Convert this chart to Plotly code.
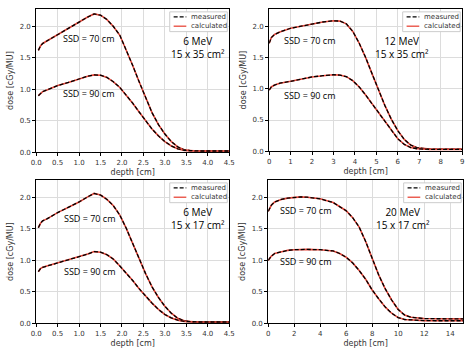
import plotly.graph_objects as go

# ---------- data ----------
depth_a = [0.05, 0.1, 0.15, 0.25, 0.5, 0.75, 1.0, 1.2, 1.35, 1.5, 1.65, 1.8, 1.95, 2.1, 2.25, 2.4, 2.55, 2.7, 2.85, 3.0, 3.15, 3.3, 3.45, 3.6, 3.8, 4.0, 4.5]
a_ssd70 = [1.62, 1.69, 1.73, 1.77, 1.88, 1.98, 2.07, 2.15, 2.20, 2.18, 2.11, 2.00, 1.86, 1.63, 1.38, 1.12, 0.86, 0.63, 0.44, 0.29, 0.17, 0.085, 0.04, 0.025, 0.02, 0.02, 0.02]
a_ssd90 = [0.90, 0.94, 0.965, 0.99, 1.06, 1.11, 1.165, 1.21, 1.23, 1.225, 1.19, 1.12, 1.03, 0.91, 0.78, 0.64, 0.50, 0.37, 0.26, 0.17, 0.10, 0.055, 0.03, 0.022, 0.02, 0.02, 0.02]

depth_b = [0, 0.1, 0.25, 0.5, 1, 1.5, 2, 2.5, 3, 3.3, 3.6, 3.9, 4.2, 4.5, 4.8, 5.1, 5.4, 5.7, 6.0, 6.3, 6.6, 6.9, 7.2, 7.5, 8, 9]
b_ssd70 = [1.73, 1.82, 1.87, 1.91, 1.97, 2.005, 2.04, 2.07, 2.09, 2.085, 2.04, 1.92, 1.73, 1.50, 1.24, 0.98, 0.73, 0.51, 0.33, 0.19, 0.10, 0.055, 0.04, 0.035, 0.033, 0.033]
b_ssd90 = [0.98, 1.03, 1.06, 1.09, 1.12, 1.155, 1.19, 1.21, 1.225, 1.22, 1.195, 1.13, 1.03, 0.90, 0.76, 0.61, 0.46, 0.32, 0.20, 0.11, 0.06, 0.04, 0.032, 0.03, 0.03, 0.03]

depth_c = [0.05, 0.1, 0.15, 0.25, 0.5, 0.75, 1.0, 1.2, 1.35, 1.5, 1.65, 1.8, 1.95, 2.1, 2.25, 2.4, 2.55, 2.7, 2.85, 3.0, 3.15, 3.3, 3.45, 3.6, 3.8, 4.0, 4.5]
c_ssd70 = [1.52, 1.59, 1.63, 1.66, 1.76, 1.84, 1.93, 2.01, 2.065, 2.04, 1.97, 1.87, 1.72, 1.51, 1.27, 1.03, 0.79, 0.58, 0.41, 0.27, 0.16, 0.08, 0.04, 0.025, 0.02, 0.02, 0.02]
c_ssd90 = [0.82, 0.87, 0.89, 0.91, 0.96, 1.00, 1.05, 1.10, 1.14, 1.13, 1.09, 1.02, 0.91, 0.80, 0.68, 0.55, 0.43, 0.32, 0.22, 0.14, 0.085, 0.05, 0.03, 0.022, 0.02, 0.02, 0.02]

depth_d = [0, 0.25, 0.5, 1, 1.5, 2, 2.5, 3, 4, 5, 5.5, 6, 6.5, 7, 7.5, 8, 8.5, 9, 9.5, 10, 10.5, 11, 11.5, 12, 13, 14, 15]
d_ssd70 = [1.78, 1.88, 1.93, 1.97, 1.99, 2.0, 2.01, 2.005, 1.98, 1.92, 1.86, 1.79, 1.68, 1.53, 1.30, 1.02, 0.77, 0.55, 0.37, 0.22, 0.13, 0.095, 0.08, 0.075, 0.072, 0.07, 0.07]
d_ssd90 = [1.0, 1.07, 1.11, 1.14, 1.16, 1.17, 1.175, 1.175, 1.17, 1.15, 1.11, 1.05, 0.96, 0.84, 0.70, 0.53, 0.39, 0.26, 0.16, 0.09, 0.06, 0.05, 0.045, 0.042, 0.04, 0.04, 0.04]

energies = ["6 MeV", "12 MeV", "6 MeV", "20 MeV"]
fields = ["15 x 35 cm²", "15 x 35 cm²", "15 x 17 cm²", "15 x 17 cm²"]
ssd_labels = ["SSD = 70 cm", "SSD = 90 cm"]
legend_names = ["measured", "calculated"]
x_title = "depth [cm]"
y_title = "dose [cGy/MU]"

panels = [
    (depth_a, a_ssd70, a_ssd90, [0, 4.5], 0.5, ".1f", (1.23, 1.81), (1.23, 0.93)),
    (depth_b, b_ssd70, b_ssd90, [0, 9], 1, "d", (1.92, 1.77), (1.92, 0.90)),
    (depth_c, c_ssd70, c_ssd90, [0, 4.5], 0.5, ".1f", (1.25, 1.67), (1.25, 0.83)),
    (depth_d, d_ssd70, d_ssd90, [0, 15], 2, "d", (2.9, 1.79), (2.9, 0.99)),
]

W, H = 474, 351
boxes = [
    (31, 229, 9, 154),
    (270, 468, 9, 153),
    (31, 229, 182, 327),
    (269, 469, 182, 327),
]

RED = "#e8473a"
DASH = "4px,2px"


def px(x):
    return x / W


def py(y):
    return 1 - y / H


fig = go.Figure()
label_font = dict(family="DejaVu Sans", size=7, color="#333333")
title_font = dict(family="DejaVu Sans", size=8, color="#333333")
text_font = "Open Sans"

for i, (dep, s70, s90, xr, dt, fmt, p70, p90) in enumerate(panels):
    n = "" if i == 0 else str(i + 1)
    xa, ya = "x" + n, "y" + n
    for ys in [s70, s90]:
        fig.add_trace(go.Scatter(x=dep, y=ys, mode="lines", xaxis=xa, yaxis=ya,
                                 line=dict(color=RED, width=1.6),
                                 name="calculated", showlegend=False))
        fig.add_trace(go.Scatter(x=dep, y=ys, mode="lines", xaxis=xa, yaxis=ya,
                                 line=dict(color="black", width=1.3, dash=DASH),
                                 name="measured", showlegend=False))

    x0, x1, y0, y1 = boxes[i]
    axis_common = dict(showline=True, linecolor="black", linewidth=1, mirror=True,
                       ticks="outside", ticklen=3, tickcolor="black",
                       showgrid=True, gridcolor="#dcdcdc", gridwidth=1,
                       zeroline=False, tickfont=label_font)
    fig.update_layout(**{
        "xaxis" + n: dict(domain=[px(x0), px(x1)], range=xr, dtick=dt, tick0=0, tickformat=fmt,
                          anchor=ya, title=dict(text=x_title, font=title_font, standoff=3),
                          **axis_common),
        "yaxis" + n: dict(domain=[py(y1), py(y0)], range=[0, 2.28], dtick=0.5, tick0=0,
                          tickformat=".1f", anchor=xa,
                          title=dict(text=y_title, font=title_font, standoff=4),
                          **axis_common),
    })

    # manual legend box
    fig.add_shape(type="rect", xref="paper", yref="paper",
                  x0=px(x1 - 61), x1=px(x1 - 2), y0=py(y0 + 23), y1=py(y0 + 3),
                  fillcolor="white", line=dict(color="#cccccc", width=1), layer="above")
    for k, (nm, ly) in enumerate(zip(legend_names, [y0 + 8, y0 + 17.5])):
        style = dict(color="black", width=1.3, dash=DASH) if k == 0 else dict(color=RED, width=1.3)
        fig.add_shape(type="line", xref="paper", yref="paper",
                      x0=px(x1 - 57), x1=px(x1 - 44), y0=py(ly), y1=py(ly),
                      line=style, layer="above")
        fig.add_annotation(x=px(x1 - 41), y=py(ly), xref="paper", yref="paper",
                           text=nm, showarrow=False, xanchor="left", yanchor="middle",
                           font=dict(family="DejaVu Sans", size=7, color="#333333"))

    # SSD labels
    for (lx, lyv), lab in zip([p70, p90], ssd_labels):
        fig.add_annotation(x=lx, y=lyv, xref=xa, yref=ya, text=lab, showarrow=False,
                           font=dict(family=text_font, size=9, color="black"))
    # energy / field label (two lines)
    fig.add_annotation(x=px(x1 - 32), y=py(y0 + 39), xref="paper", yref="paper",
                       text=energies[i] + "<br>" + fields[i], showarrow=False,
                       yanchor="middle", align="center",
                       font=dict(family=text_font, size=10, color="black"))

fig.update_layout(width=W, height=H, margin=dict(l=0, r=0, t=0, b=0),
                  paper_bgcolor="white", plot_bgcolor="white", showlegend=False)
fig.write_html("out.html")
